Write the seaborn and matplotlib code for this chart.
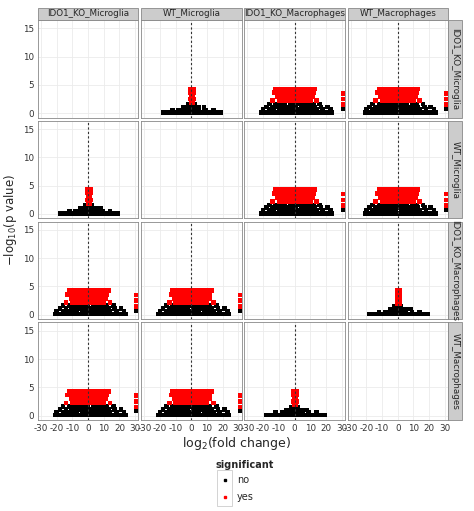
import matplotlib
matplotlib.use("Agg")
import matplotlib.pyplot as plt
import seaborn as sns
import pandas as pd

groups = ["IDO1_KO_Microglia", "WT_Microglia", "IDO1_KO_Macrophages", "WT_Macrophages"]
# which comparison (row, col) shows the narrow profile
narrow_pairs = [(0, 1), (1, 0), (2, 3), (3, 2)]

wide_red_x = [-12,-9.5,-7,-4.5,-2,0.5,3,5.5,8,10.5,13,
              -13,-10.5,-8,-5.5,-3,-0.5,2,4.5,7,9.5,12,
              -11,-8.5,-6,-3.5,-1,1.5,4,6.5,9,11.5,
              -14,-10,-7.5,-5,-2.5,0,2.5,5,7.5,10,14, 31,31,31]
wide_red_y = [4.3]*11 + [3.6]*11 + [2.9]*10 + [2.2]*11 + [1.5,2.5,3.5]
wide_blk_x = [-16,-12,-9,-6,-3,0,3,6,9,12,16,
              -18,-14,-11,-8,-5,-2,1,4,7,10,13,17,21,
              -20,-16,-13,-10,-7,-4,-1,2,5,8,11,14,18,23,
              -21,-18.5,-16,-13.5,-11,-8.5,-6,-3.5,-1,1.5,4,6.5,9,11.5,14,16.5,19,21.5,24, 31]
wide_blk_y = [1.6]*11 + [1.1]*13 + [0.6]*14 + [0.1]*19 + [0.8]

nar_red_x = [-0.5,0.5,1.5, -0.5,0.5,1.5, 0,1, -0.5,0.5,1.5, 0,1]
nar_red_y = [4.3]*3 + [3.7]*3 + [3.1]*2 + [2.5]*3 + [1.9]*2
nar_blk_x = [-2,-1,0,1,2, -5,-3,-1,1,3,5,8, -12,-8,-5,-2,0,2,5,9,14,
             -18,-15.5,-13,-10.5,-8,-5.5,-3,-0.5,2,4.5,7,9.5,12,14.5,17,19]
nar_blk_y = [1.5]*5 + [1.0]*7 + [0.5]*9 + [0.1]*16

def frame(rx, ry, bx, by):
    return pd.concat([pd.DataFrame({"x": bx, "y": by, "significant": "no"}),
                      pd.DataFrame({"x": rx, "y": ry, "significant": "yes"})])

wide = frame(wide_red_x, wide_red_y, wide_blk_x, wide_blk_y)
narrow = frame(nar_red_x, nar_red_y, nar_blk_x, nar_blk_y)

sns.set_theme(style="whitegrid")
plt.rcParams["axes.unicode_minus"] = False
fig = plt.figure(figsize=(4.74, 5.11), dpi=100)
L, R, T, B = 0.08, 0.975, 0.985, 0.178
gap = 0.006
strip_h = 0.024
strip_w = 0.03
phh = (T - strip_h - B - 3 * gap) / 4
pww = (R - strip_w - L - 3 * gap) / 4
pal = {"no": "black", "yes": "red"}
for r in range(4):
    for c in range(4):
        y0 = T - strip_h - (r + 1) * phh - r * gap
        x0 = L + c * (pww + gap)
        ax = fig.add_axes([x0, y0, pww, phh])
        ax.set_facecolor("white")
        if r != c:
            d = narrow if (r, c) in narrow_pairs else wide
            sns.scatterplot(data=d, x="x", y="y", hue="significant", palette=pal,
                            marker="s", s=11, linewidth=0, ax=ax, legend=False)
            ax.axvline(0, color="#333333", ls=(0, (2, 2)), lw=0.8)
        ax.set_xlim(-32, 32)
        ax.set_ylim(-0.8, 16.5)
        ax.set_xticks([-30, -20, -10, 0, 10, 20, 30])
        ax.set_yticks([0, 5, 10, 15])
        ax.grid(True, color="#ebebeb", lw=0.6)
        ax.set_xlabel(""); ax.set_ylabel("")
        for s in ax.spines.values():
            s.set_color("#888888"); s.set_linewidth(0.6)
        ax.tick_params(labelsize=6.3, length=2, pad=1, colors="#333333")
        if c != 0:
            ax.set_yticklabels([])
        if r != 3:
            ax.set_xticklabels([])
        if r == 0:
            fig.patches.append(plt.Rectangle((x0, y0 + phh), pww, strip_h, transform=fig.transFigure,
                                             fc="#cccccc", ec="#888888", lw=0.6))
            fig.text(x0 + pww / 2, y0 + phh + strip_h / 2, groups[c], ha="center", va="center", fontsize=6.3)
        if c == 3:
            fig.patches.append(plt.Rectangle((x0 + pww, y0), strip_w, phh, transform=fig.transFigure,
                                             fc="#cccccc", ec="#888888", lw=0.6))
            fig.text(x0 + pww + strip_w / 2, y0 + phh / 2, groups[r], ha="center", va="center",
                     rotation=270, fontsize=6.3)

fig.text(0.5, 0.125, r"log$_2$(fold change)", ha="center", fontsize=9)
fig.text(0.004, 0.57, r"$-$log$_{10}$(p value)", va="center", rotation=90, fontsize=8.5)
fig.text(0.455, 0.085, "significant", fontsize=7, fontweight="bold")
fig.patches.append(plt.Rectangle((0.458, 0.01), 0.032, 0.07, transform=fig.transFigure,
                                 fc="white", ec="#cccccc", lw=0.6))
fig.lines.append(plt.Line2D([0.474], [0.06], marker="s", ms=1.5, color="black", transform=fig.transFigure))
fig.lines.append(plt.Line2D([0.474], [0.028], marker="s", ms=1.5, color="red", transform=fig.transFigure))
fig.text(0.5, 0.06, "no", fontsize=7, va="center")
fig.text(0.5, 0.028, "yes", fontsize=7, va="center")
fig.savefig("out.png", dpi=100)
